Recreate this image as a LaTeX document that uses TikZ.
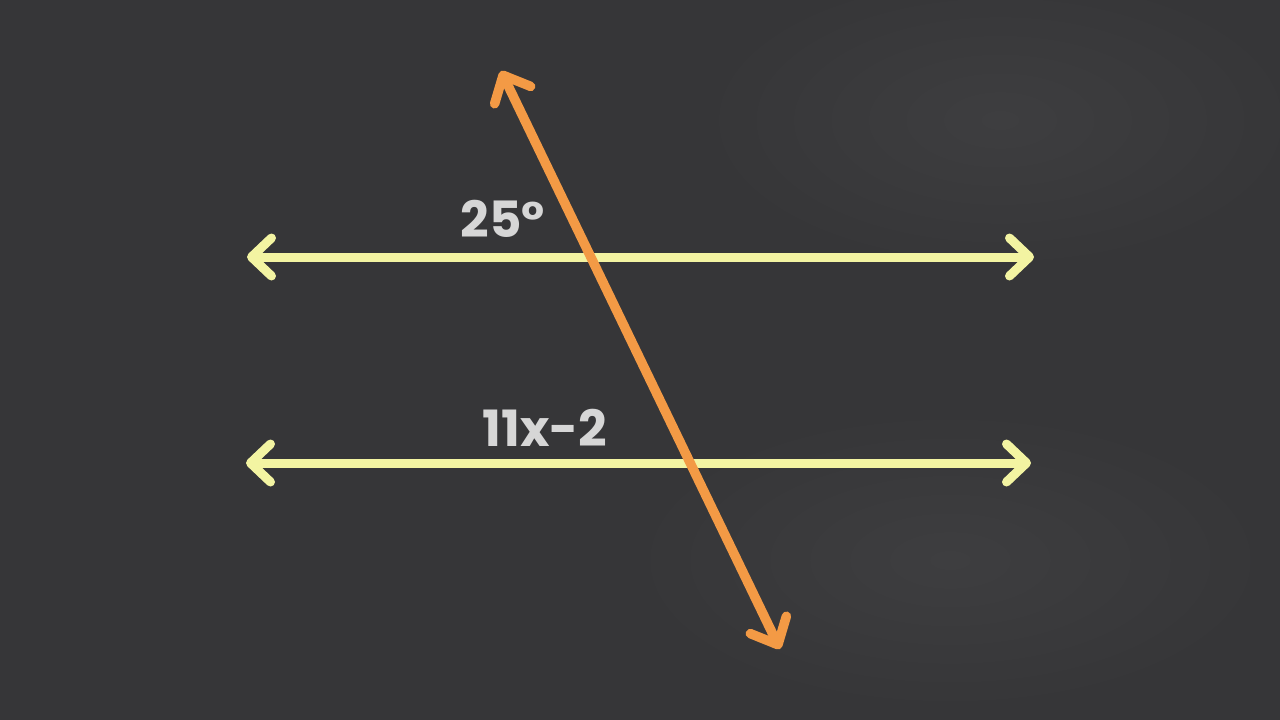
\documentclass[tikz,border=0pt]{standalone}
\usepackage{fontspec}
\setmainfont{Poppins}
\usetikzlibrary{arrows.meta}
\definecolor{board}{HTML}{363638}
\definecolor{boardlight}{HTML}{3E3E40}
\definecolor{chalkyellow}{HTML}{F3F4A2}
\definecolor{chalkorange}{HTML}{F39A45}
\definecolor{chalkwhite}{HTML}{D6D6D6}
\tikzset{
  parallel/.style={draw=chalkyellow, line width=9pt, line cap=round,
    {Straight Barb[round,length=20pt,width=38pt]}-{Straight Barb[round,length=20pt,width=38pt]}},
  transversal/.style={draw=chalkorange, line width=9.5pt, line cap=round,
    {Straight Barb[round,length=22pt,width=40pt]}-{Straight Barb[round,length=22pt,width=40pt]}},
  anglelabel/.style={text=chalkwhite, font=\fontsize{50}{50}\selectfont\bfseries, inner sep=0pt}
}
\begin{document}
\begin{tikzpicture}[x=1pt,y=-1pt]
  \useasboundingbox (0,0) rectangle (1280,720);
  \fill[board] (0,0) rectangle (1280,720);
  % soft chalk smudges
  \shade[inner color=boardlight, outer color=board] (1000,120) ellipse (300 and 150);
  \shade[inner color=boardlight, outer color=board] (950,560) ellipse (320 and 150);
  % lines
  \coordinate (t1) at (247,257);
  \coordinate (t2) at (1034,257);
  \coordinate (b1) at (246,463);
  \coordinate (b2) at (1031,463);
  \coordinate (o1) at (501,71);
  \coordinate (o2) at (780,649);
  \draw[parallel] (t1) -- (t2);
  \draw[parallel] (b1) -- (b2);
  \draw[transversal] (o1) -- (o2);
  % labels
  \node[anglelabel] (a1) at (503,219) {25°};
  \node[anglelabel] (a2) at (545,428) {11x-2};
\end{tikzpicture}
\end{document}
